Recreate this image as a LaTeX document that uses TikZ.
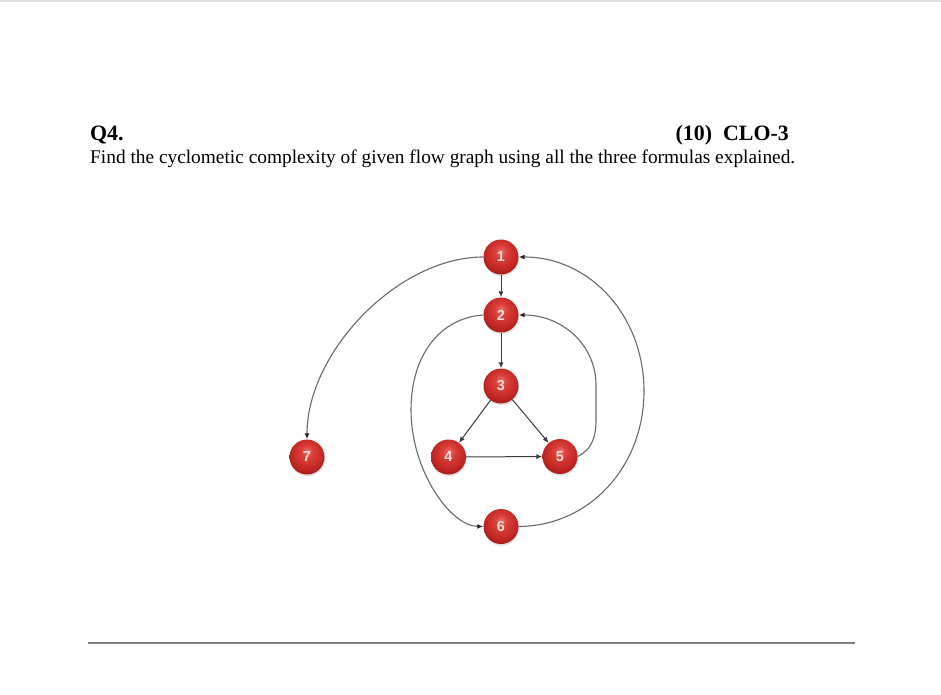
\documentclass[tikz,border=0pt]{standalone}
\usepackage{fontspec}
\setmainfont{Liberation Serif}
\newfontfamily\numfont{Liberation Sans}
\usetikzlibrary{arrows.meta,shadows}
\definecolor{nodered}{RGB}{200,40,36}
\definecolor{curvegray}{RGB}{105,105,105}
\definecolor{stemgray}{RGB}{60,60,60}
\pgfdeclareradialshading{redglossball}{\pgfpoint{0bp}{9bp}}{%
  color(0bp)=(rgb,255:red,236;green,112;blue,104);
  color(9bp)=(rgb,255:red,218;green,62;blue,56);
  color(22bp)=(rgb,255:red,196;green,40;blue,36);
  color(30bp)=(rgb,255:red,160;green,26;blue,24);
  color(50bp)=(rgb,255:red,150;green,22;blue,22)}
\begin{document}
\begin{tikzpicture}[x=1pt,y=-1pt,
  vtx/.style={circle, minimum size=35pt, inner sep=0pt, shading=redglossball,
    font=\numfont\bfseries\fontsize{14.5}{14.5}\selectfont, text={rgb,255:red,255;green,222;blue,216},
    drop shadow={opacity=0.22, shadow xshift=0.5pt, shadow yshift=-1.8pt}},
  edge/.style={draw=stemgray, line width=1pt, -{Latex[length=6pt,width=5pt]}},
  curve/.style={draw=curvegray, line width=1.1pt, -{Latex[length=6pt,width=5pt,color=black!85]}},
  hdr/.style={inner sep=0pt, font=\bfseries\fontsize{21.9}{24}\selectfont},
  body/.style={inner sep=0pt, font=\fontsize{19.35}{22}\selectfont}
]
\useasboundingbox (0,0) rectangle (941,695);
\fill[white] (0,0) rectangle (941,695);
% top and bottom rules
\coordinate (tl) at (0,1);
\coordinate (tr) at (941,1);
\draw[line width=2pt, draw=black!12] (tl) -- (tr);
\coordinate (bl) at (88,643);
\coordinate (br) at (855,643);
\draw[line width=1.6pt, draw=black!50] (bl) -- (br);
% texts
\node[hdr, anchor=base west] (q) at (90,140.5) {Q4.};
\node[hdr, anchor=base east] (clo) at (789,140.5) {(10)\ \ CLO-3};
\node[body, anchor=base west] (task) at (90,163.3) {Find the cyclometic complexity of given flow graph using all the three formulas explained.};
% nodes
\node[vtx] (n1) at (501,257) {1};
\node[vtx] (n2) at (501,315) {2};
\node[vtx] (n3) at (501,386) {3};
\node[vtx] (n4) at (448.5,457) {4};
\node[vtx] (n5) at (560,456.5) {5};
\node[vtx] (n6) at (501,526.5) {6};
\node[vtx] (n7) at (307,457) {7};
% edges
\draw[edge] (n1) -- (n2);
\draw[edge] (n2) -- (n3);
\draw[edge] (n3) -- (n4);
\draw[edge] (n3) -- (n5);
\draw[edge] (n4) -- (n5);
\draw[curve] (n1.west) .. controls (398,257) and (307,352) .. (n7.north);
\draw[curve] (n6.east) .. controls (590,526) and (644,466) .. (644,391) .. controls (644,316) and (590,257) .. (n1.east);
\draw[curve] (n5.east) .. controls (590,450) and (596,440) .. (596,420) -- (596,385) .. controls (596,345) and (562,315) .. (n2.east);
\draw[curve] (n2.west) .. controls (440,318) and (411,355) .. (411,410) .. controls (411,470) and (450,526) .. (n6.west);
\end{tikzpicture}
\end{document}
